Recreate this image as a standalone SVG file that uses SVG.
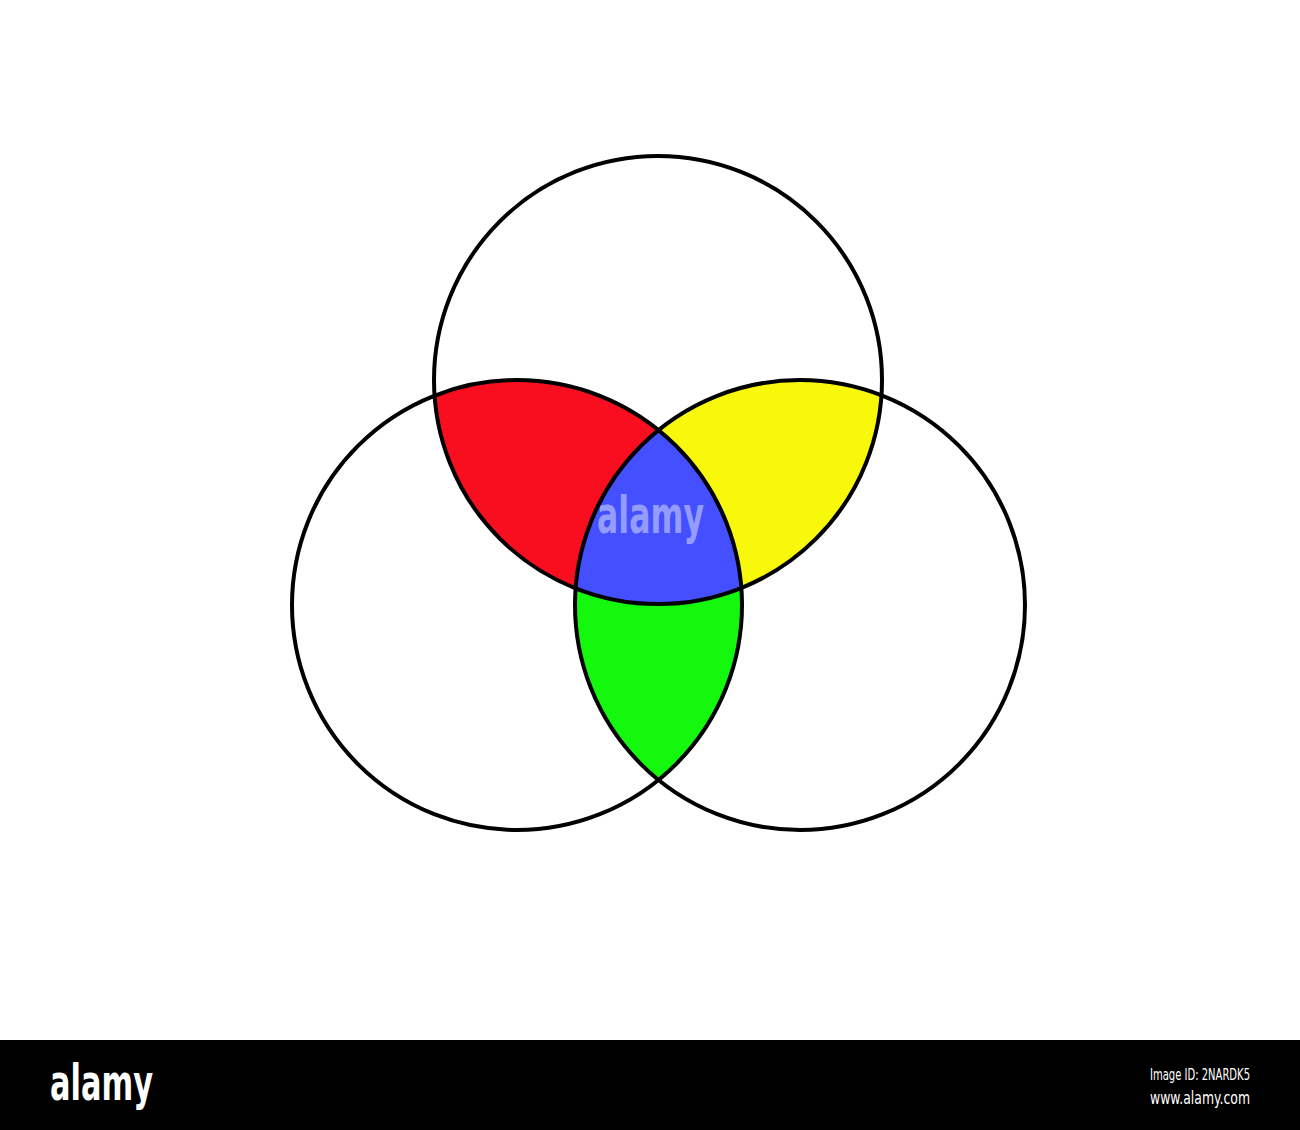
<svg xmlns="http://www.w3.org/2000/svg" width="1300" height="1130" viewBox="0 0 1300 1130">
<style>
.ring{fill:none;stroke:#000;stroke-width:4}
.wm{font-family:"DejaVu Sans","Liberation Sans",sans-serif;font-weight:bold;fill:#fff}
</style>
<defs>
<clipPath id="cTop"><circle cx="658" cy="380" r="224"/></clipPath>
<clipPath id="cLeft"><circle cx="517" cy="605" r="225"/></clipPath>
<clipPath id="cRight"><circle cx="800" cy="605" r="225"/></clipPath>
</defs>
<rect width="1300" height="1130" fill="#fff"/>
<g id="regions">
<g clip-path="url(#cTop)"><circle cx="517" cy="605" r="225" fill="#F80E1E"/></g>
<g clip-path="url(#cTop)"><circle cx="800" cy="605" r="225" fill="#F8F80A"/></g>
<g clip-path="url(#cLeft)"><circle cx="800" cy="605" r="225" fill="#14F80E"/></g>
<g clip-path="url(#cTop)"><g clip-path="url(#cLeft)"><circle cx="800" cy="605" r="225" fill="#4450FF"/></g></g>
</g>
<g id="circle-top"><circle class="ring" cx="658" cy="380" r="224"/></g>
<g id="circle-left"><circle class="ring" cx="517" cy="605" r="225"/></g>
<g id="circle-right"><circle class="ring" cx="800" cy="605" r="225"/></g>
<g id="watermark">
<text class="wm" x="597" y="533" font-size="52" textLength="107" lengthAdjust="spacingAndGlyphs" fill-opacity="0.45">alamy</text>
</g>
<g id="footer">
<rect x="0" y="1040" width="1300" height="90" fill="#000"/>
<text class="wm" x="50" y="1100" font-size="50" textLength="103" lengthAdjust="spacingAndGlyphs">alamy</text>
<text x="1250" y="1080" font-family="DejaVu Sans,sans-serif" font-size="15" fill="#fff" text-anchor="end" textLength="100" lengthAdjust="spacingAndGlyphs">Image ID: 2NARDK5</text>
<text x="1250" y="1104" font-family="DejaVu Sans,sans-serif" font-size="18" fill="#fff" text-anchor="end" textLength="100" lengthAdjust="spacingAndGlyphs">www.alamy.com</text>
</g>
</svg>
